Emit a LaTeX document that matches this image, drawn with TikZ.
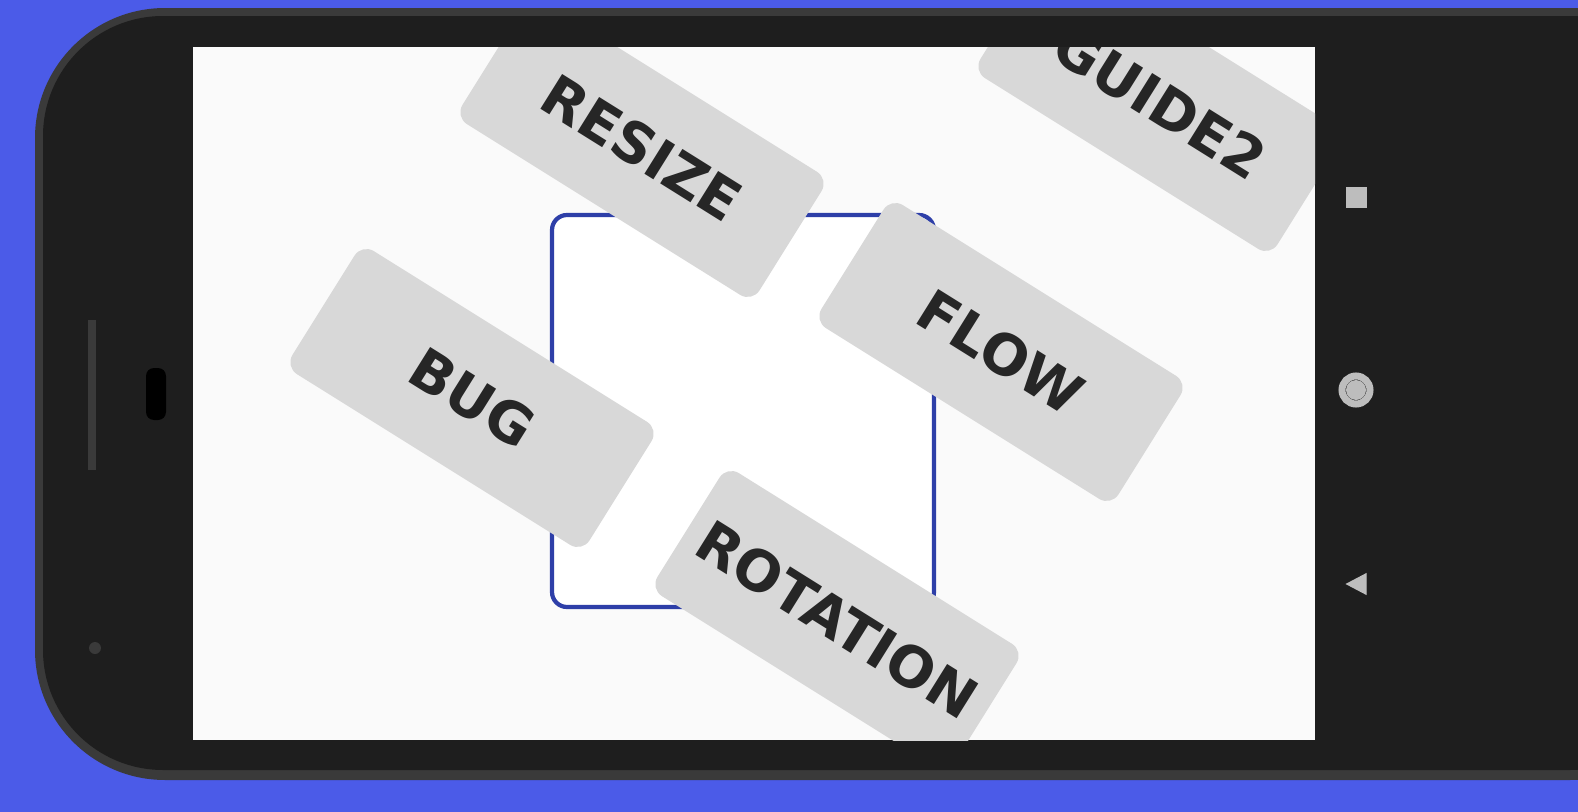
\documentclass[tikz,border=0pt]{standalone}
\usepackage{fontspec}
\setsansfont{DejaVu Sans}
\usetikzlibrary{positioning}
\definecolor{bgblue}{HTML}{4B5BE8}
\definecolor{phonebody}{HTML}{1E1E1E}
\definecolor{phoneedge}{HTML}{3A3A3A}
\definecolor{screenbg}{HTML}{FAFAFA}
\definecolor{chipgray}{HTML}{D8D8D8}
\definecolor{boxblue}{HTML}{2E3FA8}
\definecolor{navgray}{HTML}{BDBDBD}
\begin{document}
\begin{tikzpicture}[x=0.01cm, y=0.01cm,
    chip/.style={fill=chipgray, rounded corners=4pt, minimum width=3.5cm, minimum height=1.45cm,
      rotate=-32, font=\sffamily\bfseries\fontsize{16}{20}\selectfont, text=black!85},
    navicon/.style={fill=navgray, draw=navgray}
]
    % background
    \fill[bgblue] (0,0) rectangle (1578,-812);
    \useasboundingbox (0,0) rectangle (1578,-812);
    \begin{scope}
    \clip (0,0) rectangle (1578,-812);
    % phone body
    \fill[phoneedge, rounded corners=1.3cm] (35,-8) rectangle (1700,-780);
    \fill[phonebody, rounded corners=1.2cm] (43,-16) rectangle (1690,-770);
    \end{scope}
    % speaker and camera
    \fill[black, rounded corners=0.08cm] (146,-368) rectangle (166,-420);
    \fill[phoneedge] (95,-648) circle (6);
    \draw[phoneedge, line width=2pt] (92,-320) -- (92,-470);
    % screen
    \fill[screenbg] (193,-47) rectangle (1315,-740);
    % nav icons
    \fill[navicon] (1347,-188) rectangle (1366,-207);
    \draw[navgray, line width=2pt] (1356,-390) circle (14);
    \fill[navgray] (1356,-390) circle (10);
    \fill[navicon] (1366,-574) -- (1366,-594) -- (1347,-584) -- cycle;
    \begin{scope}
    \clip (193,-47) rectangle (1315,-740);
    % center frame
    \draw[boxblue, line width=1.2pt, fill=white, rounded corners=0.15cm] (552,-215) rectangle (934,-607);
    % chips
    \node[chip] (resize) at (642,-148) {RESIZE};
    \node[chip] (guide) at (1160,-102) {GUIDE2};
    \node[chip] (bug) at (472,-398) {BUG};
    \node[chip] (flow) at (1001,-352) {FLOW};
    \node[chip] (rotation) at (837,-620) {ROTATION};
    \end{scope}
\end{tikzpicture}
\end{document}
